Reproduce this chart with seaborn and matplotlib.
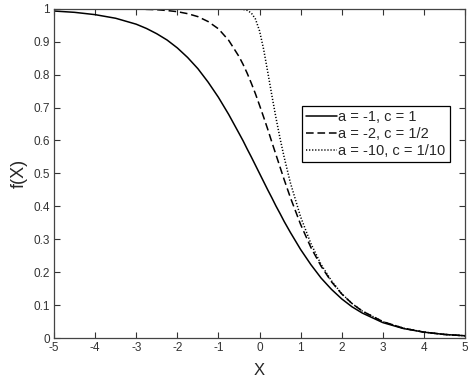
import matplotlib
matplotlib.use("Agg")
import matplotlib.pyplot as plt
import seaborn as sns
import pandas as pd

# sample positions
x = [-5, -4.5, -4, -3.5, -3, -2.75, -2.5, -2.25, -2, -1.75, -1.5, -1.25, -1,
     -0.75, -0.5, -0.4, -0.3, -0.2, -0.1, 0, 0.1, 0.2, 0.3, 0.4, 0.5, 0.6,
     0.75, 1, 1.25, 1.5, 1.75, 2, 2.25, 2.5, 3, 3.5, 4, 4.5, 5]

f_a1 = [0.993, 0.989, 0.982, 0.971, 0.953, 0.940, 0.924, 0.905, 0.881, 0.852,
        0.818, 0.777, 0.731, 0.679, 0.622, 0.599, 0.574, 0.550, 0.525, 0.500,
        0.475, 0.450, 0.426, 0.401, 0.378, 0.354, 0.321, 0.269, 0.223, 0.182,
        0.148, 0.119, 0.095, 0.076, 0.047, 0.029, 0.018, 0.011, 0.007]

f_a2 = [1.000, 1.000, 1.000, 0.9995, 0.999, 0.998, 0.997, 0.9945, 0.991, 0.985,
        0.976, 0.961, 0.939, 0.904, 0.855, 0.831, 0.804, 0.774, 0.742, 0.707,
        0.671, 0.634, 0.595, 0.557, 0.519, 0.481, 0.427, 0.345, 0.275, 0.218,
        0.171, 0.134, 0.105, 0.082, 0.050, 0.030, 0.018, 0.011, 0.007]

f_a10 = [1.000, 1.000, 1.000, 1.000, 1.000, 1.000, 1.000, 1.000, 1.000, 1.000,
         1.000, 1.000, 1.000, 1.000, 0.999, 0.998, 0.995, 0.987, 0.969, 0.933,
         0.877, 0.808, 0.737, 0.669, 0.606, 0.549, 0.472, 0.368, 0.287, 0.223,
         0.174, 0.135, 0.105, 0.082, 0.050, 0.030, 0.018, 0.011, 0.007]

labels = ["a = -1, c = 1", "a = -2, c = 1/2", "a = -10, c = 1/10"]
series = [f_a1, f_a2, f_a10]

x_ticks = [-5, -4, -3, -2, -1, 0, 1, 2, 3, 4, 5]
y_ticks = [0, 0.1, 0.2, 0.3, 0.4, 0.5, 0.6, 0.7, 0.8, 0.9, 1]
y_tick_labels = ["0", "0.1", "0.2", "0.3", "0.4", "0.5", "0.6", "0.7", "0.8", "0.9", "1"]

rows = []
for lab, vals in zip(labels, series):
    for xi, yi in zip(x, vals):
        rows.append({"x": xi, "f": yi, "curve": lab})
df = pd.DataFrame(rows)

sns.set_style("ticks")
plt.rcParams["font.family"] = ["Liberation Sans", "DejaVu Sans"]

fig = plt.figure(figsize=(4.74, 3.79), dpi=100)
ax = fig.add_axes([0.114, 0.108, 0.867, 0.869])

sns.lineplot(data=df, x="x", y="f", style="curve", style_order=labels,
             dashes={labels[0]: "", labels[1]: (5, 2.5), labels[2]: (0.8, 1.2)},
             color="black", linewidth=1.1, ax=ax, sort=False)

ax.set_xlim(-5, 5)
ax.set_ylim(0, 1)
ax.set_xticks(x_ticks)
ax.set_xticklabels([str(t) for t in x_ticks])
ax.set_yticks(y_ticks)
ax.set_yticklabels(y_tick_labels)
ax.tick_params(direction="in", length=4, width=0.8, colors="#333333",
               labelsize=8.5, top=True, right=True, pad=3)
for s in ax.spines.values():
    s.set_visible(True)
    s.set_color("#444444")
    s.set_linewidth(0.9)

ax.set_xlabel("X", fontsize=12, labelpad=6)
ax.set_ylabel("f(X)", fontsize=13, labelpad=4)

leg = ax.legend(loc="upper left", bbox_to_anchor=(0.603, 0.705), fontsize=10.5,
                frameon=True, fancybox=False, handlelength=2.1,
                handletextpad=0.1, borderpad=0.3, labelspacing=0.2,
                borderaxespad=0)
leg.get_frame().set_edgecolor("black")
leg.get_frame().set_linewidth(0.9)
leg.get_frame().set_alpha(1)

fig.savefig("out.png", dpi=100)
